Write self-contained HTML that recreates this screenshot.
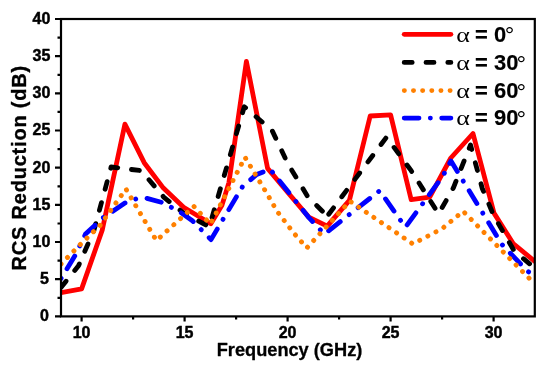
<!DOCTYPE html>
<html><head><meta charset="utf-8"><title>RCS Reduction</title>
<style>html,body{margin:0;padding:0;background:#fff}body{width:550px;height:365px;position:relative;overflow:hidden}</style>
</head><body>
<svg width="550" height="365" viewBox="0 0 550 365" style="position:absolute;left:0;top:0">
<defs><clipPath id="c"><rect x="61.0" y="19.0" width="473.8" height="297.4"/></clipPath></defs>
<g clip-path="url(#c)" fill="none" stroke-linejoin="round" stroke-linecap="round" stroke-width="4.8">
<path d="M61.0 292.6 L81.6 288.9 L102.2 230.2 L124.9 124.2 L144.2 162.7 L163.4 188.1 L183.6 207.3 L210.8 223.8 L222.1 204.9 L228.9 182.6 L246.4 61.4 L267.6 168.4 L287.6 192.2 L308.8 217.1 L327.2 226.1 L349.4 200.4 L370.2 116.0 L390.6 114.9 L411.2 199.7 L429.7 197.1 L450.8 158.0 L473.0 133.5 L494.0 213.1 L513.2 243.5 L534.8 261.4" stroke="#ff0000"/>
<path d="M61.0 287.4 L78.5 265.8 L94.0 230.2 L111.1 167.0 L141.3 170.7 L164.0 197.4 L184.6 213.8 L209.3 226.8 L244.3 106.7 L272.1 130.5 L287.6 163.2 L308.2 197.4 L327.4 216.0" stroke="#000" stroke-dasharray="8 13.8" stroke-dashoffset="0"/>
<path d="M327.4 216.0 L386.5 137.2 L411.2 170.7 L438.6 213.8 L453.4 187.8 L470.5 145.0 L482.3 188.5 L493.6 215.3 L514.2 251.0 L534.8 268.1" stroke="#000" stroke-dasharray="8 13.8" stroke-dashoffset="19.6"/>
<path d="M61.0 278.5 L75.4 255.0 L85.5 234.0 L103.2 217.7 L124.9 203.0 L136.0 198.9 L146.5 198.2 L161.9 202.4 L179.7 211.8 L192.4 220.7 L211.0 239.6 L223.1 219.2 L242.3 187.0 L256.7 174.4 L270.1 169.2 L308.2 216.8 L324.3 234.2 L379.7 190.7 L405.4 227.2 L442.5 176.6 L451.0 161.0 L501.8 244.3 L526.6 270.3 L534.8 277.0" stroke="#0000ff" stroke-dasharray="14.8 11.3 0.1 11.3" stroke-dashoffset="26.0"/>
<path d="M61.0 264.0 L80.4 244.4 L100.1 225.3 L125.9 189.0 L156.4 240.6 L193.9 206.4 L210.4 224.2 L245.0 157.3 L267.0 193.7 L277.3 211.6 L293.8 233.1 L306.8 248.0 L350.0 201.2 L412.8 243.9 L442.1 228.7 L463.1 211.2 L528.6 277.7 L534.8 284.4" stroke="#ff8000" stroke-width="4.9" stroke-dasharray="0.1 9.05" stroke-dashoffset="0"/>
</g>
<rect x="61.0" y="19.0" width="473.8" height="297.4" fill="none" stroke="#000" stroke-width="2.2"/>
<path d="M61.0 316.4 h-6 M61.0 279.2 h-6 M61.0 242.0 h-6 M61.0 204.9 h-6 M61.0 167.7 h-6 M61.0 130.5 h-6 M61.0 93.3 h-6 M61.0 56.2 h-6 M61.0 19.0 h-6 M61.0 297.8 h-3.5 M61.0 260.6 h-3.5 M61.0 223.5 h-3.5 M61.0 186.3 h-3.5 M61.0 149.1 h-3.5 M61.0 111.9 h-3.5 M61.0 74.8 h-3.5 M61.0 37.6 h-3.5 M81.6 316.4 v5.0 M184.6 316.4 v5.0 M287.6 316.4 v5.0 M390.6 316.4 v5.0 M493.6 316.4 v5.0 M133.1 316.4 v3.2 M236.1 316.4 v3.2 M339.1 316.4 v3.2 M442.1 316.4 v3.2" stroke="#000" stroke-width="2.2" fill="none"/>
<g font-family="'Liberation Sans', Arial, sans-serif" font-weight="bold" font-size="16px" fill="#000" stroke="#000" stroke-width="0.45" stroke-linejoin="round">
<text x="48.9" y="321.3" text-anchor="end">0</text>
<text x="48.9" y="284.1" text-anchor="end">5</text>
<text x="50.4" y="246.9" text-anchor="end">10</text>
<text x="50.4" y="209.8" text-anchor="end">15</text>
<text x="50.4" y="172.6" text-anchor="end">20</text>
<text x="50.4" y="135.4" text-anchor="end">25</text>
<text x="50.4" y="98.2" text-anchor="end">30</text>
<text x="50.4" y="61.1" text-anchor="end">35</text>
<text x="50.4" y="23.9" text-anchor="end">40</text>
<text x="81.6" y="337.5" text-anchor="middle">10</text>
<text x="184.6" y="337.5" text-anchor="middle">15</text>
<text x="287.6" y="337.5" text-anchor="middle">20</text>
<text x="390.6" y="337.5" text-anchor="middle">25</text>
<text x="493.6" y="337.5" text-anchor="middle">30</text>
</g>
<text transform="translate(216.7 355.5) scale(1.012 1)" stroke="#000" stroke-width="0.3" stroke-linejoin="round" font-family="'Liberation Sans', Arial, sans-serif" font-weight="bold" font-size="18px">Frequency (GHz)</text>
<text transform="translate(26.1 270.4) rotate(-90)" letter-spacing="0.79" stroke="#000" stroke-width="0.35" stroke-linejoin="round" font-family="'Liberation Sans', Arial, sans-serif" font-weight="bold" font-size="20px">RCS Reduction (dB)</text>
<g fill="none" stroke-linecap="round" stroke-width="4.8">
<path d="M404.2 34.3 H450.9" stroke="#ff0000"/>
<path d="M404.2 62.4 H450.9" stroke="#000" stroke-dasharray="8 13.8"/>
<path d="M404.3 90.6 H450.9" stroke="#ff8000" stroke-width="4.9" stroke-dasharray="0.1 9.05"/>
<path d="M404.2 118.1 H450.9" stroke="#0000ff" stroke-dasharray="14.8 11.3 0.1 11.3"/>
</g>
<text transform="translate(456.3 41.6) scale(1.3 1)" font-family="'Liberation Serif', serif" font-size="20px">α</text>
<text transform="translate(469 41.6) scale(1.022 1)" font-family="'Liberation Sans', Arial, sans-serif" font-weight="bold" font-size="21.5px" stroke="#000" stroke-width="0.15" stroke-linejoin="round" xml:space="preserve"> = 0</text>
<text x="504.7" y="43.4" font-family="'Liberation Sans', Arial, sans-serif" font-size="24px">°</text>
<text transform="translate(456.3 69.7) scale(1.3 1)" font-family="'Liberation Serif', serif" font-size="20px">α</text>
<text transform="translate(469 69.7) scale(1.022 1)" font-family="'Liberation Sans', Arial, sans-serif" font-weight="bold" font-size="21.5px" stroke="#000" stroke-width="0.15" stroke-linejoin="round" xml:space="preserve"> = 30</text>
<text x="516.6" y="71.5" font-family="'Liberation Sans', Arial, sans-serif" font-size="24px">°</text>
<text transform="translate(456.3 97.9) scale(1.3 1)" font-family="'Liberation Serif', serif" font-size="20px">α</text>
<text transform="translate(469 97.9) scale(1.022 1)" font-family="'Liberation Sans', Arial, sans-serif" font-weight="bold" font-size="21.5px" stroke="#000" stroke-width="0.15" stroke-linejoin="round" xml:space="preserve"> = 60</text>
<text x="516.6" y="99.7" font-family="'Liberation Sans', Arial, sans-serif" font-size="24px">°</text>
<text transform="translate(456.3 125.4) scale(1.3 1)" font-family="'Liberation Serif', serif" font-size="20px">α</text>
<text transform="translate(469 125.4) scale(1.022 1)" font-family="'Liberation Sans', Arial, sans-serif" font-weight="bold" font-size="21.5px" stroke="#000" stroke-width="0.15" stroke-linejoin="round" xml:space="preserve"> = 90</text>
<text x="516.6" y="127.2" font-family="'Liberation Sans', Arial, sans-serif" font-size="24px">°</text>
</svg>
</body></html>
